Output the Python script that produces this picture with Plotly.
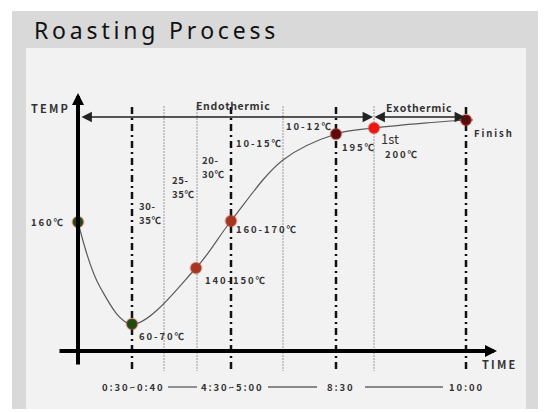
import plotly.graph_objects as go

# schematic coordinates: x = position along the process, y = height on the chart
title = "Roasting Process"

curve_x = [78, 100, 132, 196, 231, 283, 336, 374, 466, 473]
curve_y = [190, 125, 88, 144, 191, 252, 278, 284, 292, 292]

point_x = [78, 132, 196, 231, 336, 374, 466]
point_y = [190, 88, 144, 191, 278, 284, 292]
point_colors = ["#1f4a14", "#1f4a14", "#a23620", "#a23620", "#5a0b0b", "#ee1414", "#5a0b0b"]

stage_x = [132, 231, 336, 466]       # dash-dot lines
sub_stage_x = [164, 197, 283, 374]   # thin dotted lines
line_top, line_bottom = 305, 40

label_text = ["160℃", "30-<br>35℃", "25-<br>35℃", "20-<br>30℃", "10-15℃", "10-12℃",
              "60-70℃", "140-150℃", "160-170℃", "195℃", "200℃", "Finish"]
label_x = [65, 138, 171, 201, 235, 285, 138, 204, 235, 341, 384, 473]
label_y = [190, 199, 225, 245, 269, 286, 76, 132, 183, 265, 258, 279]

time_labels = ["0:30~0:40", "4:30~5:00", "8:30", "10:00"]
time_x = [132, 231, 340, 466]
time_y = 25
time_links = [(168, 197), (268, 317), (365, 443)]

phases = ["Endothermic", "Exothermic"]
phase_x = [233, 419]
phase_y = [307, 305]
phase_span = [(80, 373), (373, 465)]
phase_line_y = 295

FONT = "Noto Sans CJK KR, Noto Sans, sans-serif"
THIN = "\u2009"
HAIR = "\u200a"
LINE_STEP = 14


def spaced(s, gap=THIN):
    return gap.join(s)


fig = go.Figure()

# vertical guide lines
vx, vy = [], []
for x in stage_x:
    vx += [x, x, None]
    vy += [line_top, line_bottom, None]
fig.add_trace(go.Scatter(x=vx, y=vy, mode="lines",
                         line=dict(color="#111111", width=2.5, dash="7px,4px,2px,4px"),
                         hoverinfo="skip"))
dx, dy = [], []
for x in sub_stage_x:
    dx += [x, x, None]
    dy += [line_top + 1, line_bottom + 1, None]
fig.add_trace(go.Scatter(x=dx, y=dy, mode="lines",
                         line=dict(color="#9a9a9a", width=1, dash="2px,1px"),
                         hoverinfo="skip"))

# roast curve
fig.add_trace(go.Scatter(x=curve_x, y=curve_y, mode="lines",
                         line=dict(color="#5a5a5a", width=1.2, shape="spline", smoothing=1.0),
                         hoverinfo="skip"))
fig.add_trace(go.Scatter(x=point_x, y=point_y, mode="markers",
                         marker=dict(size=11, color=point_colors,
                                     line=dict(color="rgba(200,80,60,0.35)", width=2)),
                         hoverinfo="skip"))

# time line at the bottom
tx, ty = [], []
for a, b in time_links:
    tx += [a, b, None]
    ty += [time_y, time_y, None]
fig.add_trace(go.Scatter(x=tx, y=ty, mode="lines", line=dict(color="#666666", width=1.4),
                         hoverinfo="skip"))

annotations = []

# axes with arrows
annotations.append(dict(x=78, y=319, ax=78, ay=46, xref="x", yref="y", axref="x", ayref="y",
                        text="", showarrow=True, arrowhead=2, arrowsize=0.6, arrowwidth=4,
                        arrowcolor="#000000"))
annotations.append(dict(x=497, y=61, ax=58, ay=61, xref="x", yref="y", axref="x", ayref="y",
                        text="", showarrow=True, arrowhead=2, arrowsize=0.6, arrowwidth=4,
                        arrowcolor="#000000"))

# endothermic / exothermic spans
for (a, b), name, px, py in zip(phase_span, phases, phase_x, phase_y):
    annotations.append(dict(x=b, y=phase_line_y, ax=a, ay=phase_line_y, xref="x", yref="y",
                            axref="x", ayref="y", text="", showarrow=True, arrowhead=2,
                            startarrowhead=2, arrowside="end+start", arrowsize=1.3,
                            startarrowsize=1.3, arrowwidth=1.6, arrowcolor="#222222"))
    annotations.append(dict(x=px, y=py, xref="x", yref="y", text=spaced(name, HAIR),
                            showarrow=False, borderpad=0,
                            font=dict(family=FONT, size=10.5, color="#333333", weight="bold")))

annotations.append(dict(x=49, y=304, xref="x", yref="y", text=spaced("TEMP"), showarrow=False,
                        font=dict(family=FONT, size=11, color="#333333", weight="bold")))
annotations.append(dict(x=498, y=48, xref="x", yref="y", text=spaced("TIME"), showarrow=False,
                        font=dict(family=FONT, size=11, color="#333333", weight="bold")))

# point labels; two-line labels are placed one line at a time
for t, x, y in zip(label_text, label_x, label_y):
    lines = t.split("<br>")
    gap = HAIR if len(lines) > 1 else THIN
    top = y + LINE_STEP * (len(lines) - 1) / 2
    for i, ln in enumerate(lines):
        annotations.append(dict(x=x, y=top - i * LINE_STEP, xref="x", yref="y",
                                text=spaced(ln, gap), showarrow=False,
                                xanchor="right" if t == "160℃" else "left",
                                borderpad=0,
                                font=dict(family=FONT, size=9.5, color="#333333",
                                          weight="bold")))
annotations.append(dict(x=380, y=274, xref="x", yref="y", text="1st", showarrow=False,
                        xanchor="left", borderpad=0,
                        font=dict(family=FONT, size=13, color="#333333")))

for t, x in zip(time_labels, time_x):
    annotations.append(dict(x=x, y=time_y, xref="x", yref="y", text=spaced(t), showarrow=False,
                            font=dict(family=FONT, size=9.5, color="#333333", weight="bold")))

annotations.append(dict(x=32, y=382, xref="x", yref="y", text=spaced(title), showarrow=False,
                        xanchor="left",
                        font=dict(family="Noto Sans, sans-serif", size=23, color="#111111")))

shapes = [
    dict(type="rect", xref="x", yref="y", x0=12, x1=538, y0=3, y1=401,
         fillcolor="#d9d9d9", line=dict(width=0), layer="below"),
    dict(type="rect", xref="x", yref="y", x0=26, x1=526, y0=3, y1=364,
         fillcolor="#f2f2f2", line=dict(width=0), layer="below"),
]

fig.update_layout(
    width=550, height=412,
    margin=dict(l=0, r=0, t=0, b=0),
    paper_bgcolor="#ffffff", plot_bgcolor="#ffffff",
    showlegend=False,
    xaxis=dict(range=[0, 550], visible=False, fixedrange=True),
    yaxis=dict(range=[0, 412], visible=False, fixedrange=True),
    annotations=annotations, shapes=shapes,
)

fig.write_html("out.html", config={"displayModeBar": False},
               post_script="document.body.style.margin='0';document.body.style.overflow='hidden';")
